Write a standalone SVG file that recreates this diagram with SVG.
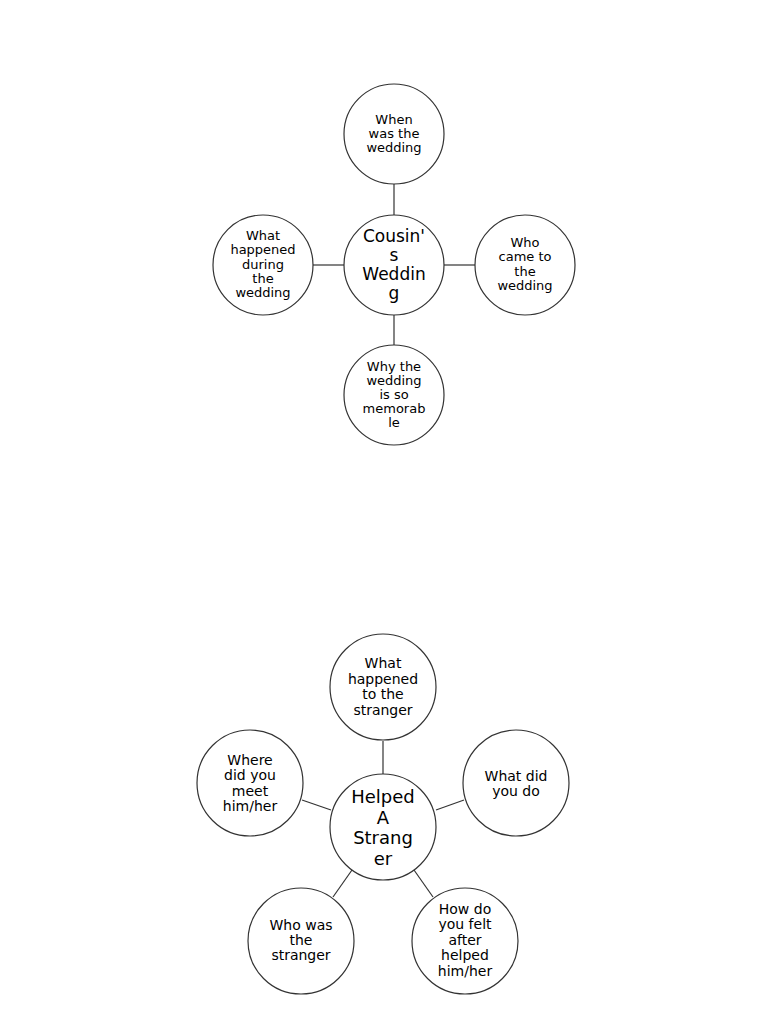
<svg xmlns="http://www.w3.org/2000/svg" width="768" height="1024" viewBox="0 0 768 1024">
<style>
circle{fill:#fff;stroke:#333;stroke-width:1.2}
line{stroke:#333;stroke-width:1.2}
text{font-family:"DejaVu Sans",sans-serif;font-size:13px;text-anchor:middle;dominant-baseline:central;fill:#000}
.c{font-size:17px}
.b{font-size:14px}
.bc{font-size:18px}
</style>
<rect width="768" height="1024" fill="#fff"/>
<g id="connectors">
<line x1="394" y1="184" x2="394" y2="215"/>
<line x1="313" y1="265" x2="344" y2="265"/>
<line x1="444" y1="265" x2="475" y2="265"/>
<line x1="394" y1="315" x2="394" y2="345"/>
<line x1="383" y1="741" x2="383" y2="774"/>
<line x1="302" y1="800" x2="331" y2="810"/>
<line x1="464" y1="800" x2="436" y2="810"/>
<line x1="352" y1="870" x2="333" y2="897"/>
<line x1="414" y1="870" x2="433" y2="897"/>
</g>
<g id="n_center1"><circle cx="394" cy="265" r="50"/><text class="c"><tspan x="394" y="236">Cousin'</tspan><tspan x="394" y="255">s</tspan><tspan x="394" y="274">Weddin</tspan><tspan x="394" y="293">g</tspan></text></g>
<g id="n_when"><circle cx="394" cy="134" r="50"/><text><tspan x="394" y="119">When</tspan><tspan x="394" y="133">was the</tspan><tspan x="394" y="147">wedding</tspan></text></g>
<g id="n_what"><circle cx="263" cy="265" r="50"/><text><tspan x="263" y="235">What</tspan><tspan x="263" y="249">happened</tspan><tspan x="263" y="264">during</tspan><tspan x="263" y="278">the</tspan><tspan x="263" y="292">wedding</tspan></text></g>
<g id="n_who"><circle cx="525" cy="265" r="50"/><text><tspan x="525" y="242">Who</tspan><tspan x="525" y="256">came to</tspan><tspan x="525" y="271">the</tspan><tspan x="525" y="285">wedding</tspan></text></g>
<g id="n_why"><circle cx="394" cy="395" r="50"/><text><tspan x="394" y="366">Why the</tspan><tspan x="394" y="380">wedding</tspan><tspan x="394" y="394">is so</tspan><tspan x="394" y="408">memorab</tspan><tspan x="394" y="422">le</tspan></text></g>
<g id="n_center2"><circle cx="383" cy="827" r="53"/><text class="bc"><tspan x="383" y="796">Helped</tspan><tspan x="383" y="817">A</tspan><tspan x="383" y="837">Strang</tspan><tspan x="383" y="858">er</tspan></text></g>
<g id="n_happened"><circle cx="383" cy="687" r="53"/><text class="b"><tspan x="383" y="663">What</tspan><tspan x="383" y="679">happened</tspan><tspan x="383" y="694">to the</tspan><tspan x="383" y="710">stranger</tspan></text></g>
<g id="n_where"><circle cx="250" cy="783" r="53"/><text class="b"><tspan x="250" y="760">Where</tspan><tspan x="250" y="775">did you</tspan><tspan x="250" y="791">meet</tspan><tspan x="250" y="806">him/her</tspan></text></g>
<g id="n_whatdid"><circle cx="516" cy="783" r="53"/><text class="b"><tspan x="516" y="776">What did</tspan><tspan x="516" y="791">you do</tspan></text></g>
<g id="n_whowas"><circle cx="301" cy="941" r="53"/><text class="b"><tspan x="301" y="925">Who was</tspan><tspan x="301" y="940">the</tspan><tspan x="301" y="955">stranger</tspan></text></g>
<g id="n_how"><circle cx="465" cy="941" r="53"/><text class="b"><tspan x="465" y="909">How do</tspan><tspan x="465" y="924">you felt</tspan><tspan x="465" y="940">after</tspan><tspan x="465" y="955">helped</tspan><tspan x="465" y="971">him/her</tspan></text></g>
</svg>
